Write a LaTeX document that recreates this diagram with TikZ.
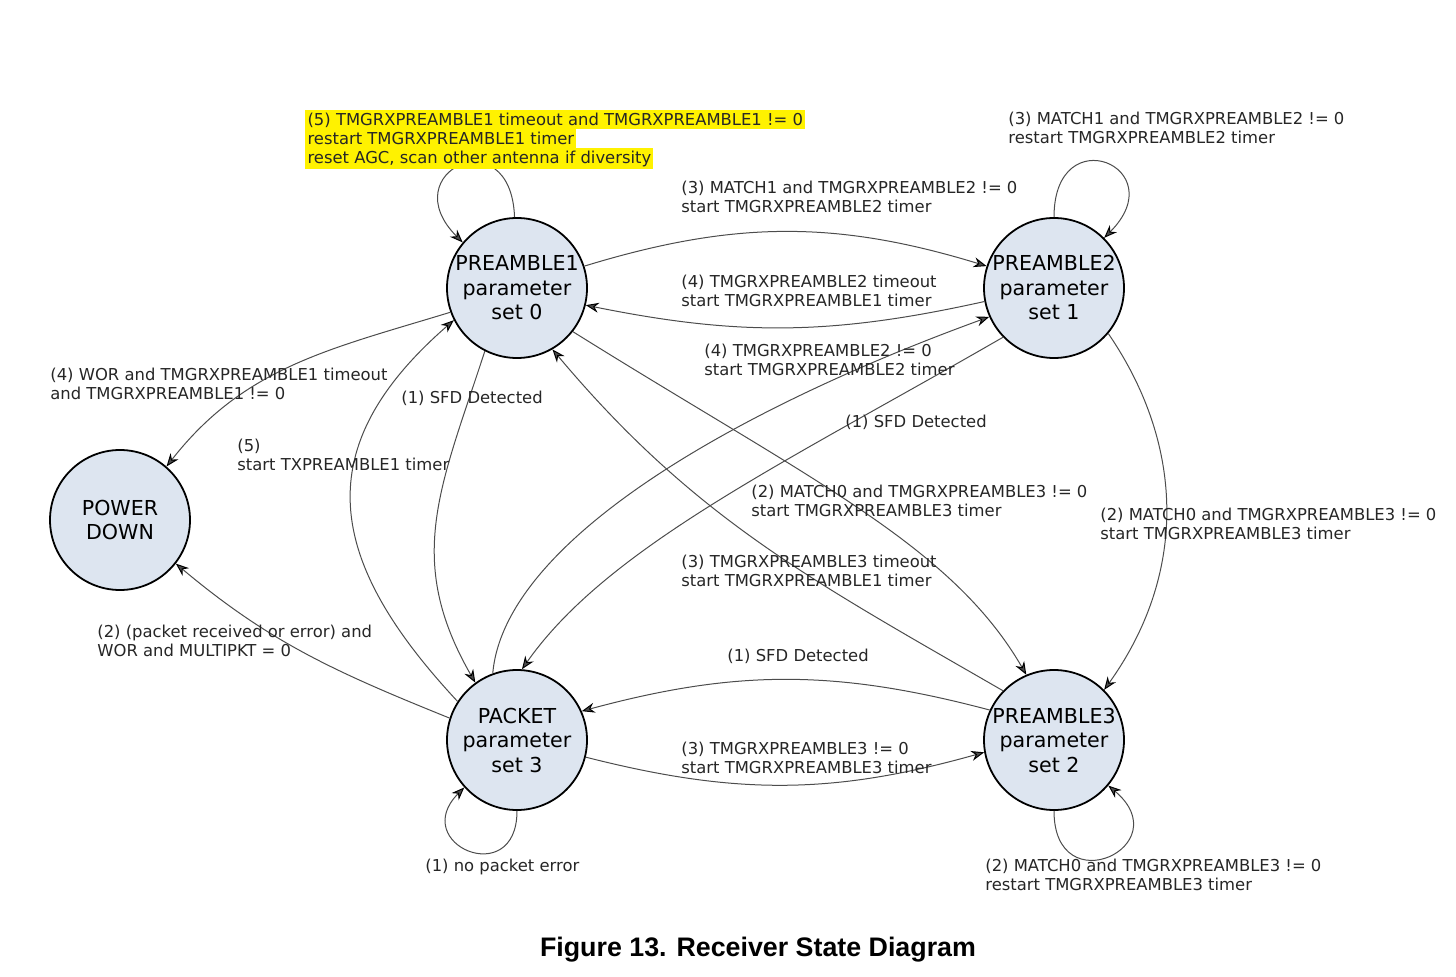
\documentclass[tikz,border=0pt]{standalone}
\usepackage{fontspec}
\setmainfont{DejaVu Sans}
\newfontfamily\capfont{Liberation Sans}
\usetikzlibrary{arrows.meta,positioning}
\definecolor{statefill}{RGB}{221,229,240}
\tikzset{state/.style={draw=black,circle,fill=statefill,line width=0.9pt,minimum size=70pt,inner sep=0pt,align=center,font=\fontsize{10.3}{12.25}\selectfont}}
\tikzstyle{lbl}=[anchor=north west,inner sep=0pt,align=left,text=black!85,font=\fontsize{8.2}{9.5}\selectfont]
\newcommand{\hl}[1]{\colorbox{yellow}{\vphantom{(}#1}}
\setlength{\fboxsep}{1.1pt}
\setlength{\lineskiplimit}{-10pt}

\begin{document}
\begin{tikzpicture}[x=0.5pt,y=0.5pt,>={Stealth[length=6.5pt,width=5pt,color=black]},node distance=268.5pt]
\useasboundingbox (0,0) rectangle (1456,976);

% states
\node[state] (pre1) at (517,688) {PREAMBLE1\\parameter\\set 0};
\node[state] (pre2) [right of=pre1] {PREAMBLE2\\parameter\\set 1};
\node[state] (pkt) [below of=pre1,node distance=226pt] {PACKET\\parameter\\set 3};
\node[state] (pre3) [right of=pkt] {PREAMBLE3\\parameter\\set 2};
\node[state] (pwr) at (120,456) {POWER\\DOWN};

% transitions
\path[->,black!70,line width=0.5pt]
  (pre1.92) edge[out=92,in=135,distance=50pt] (pre1.140)
  (pre2.90) edge[out=90,in=45,distance=50pt] (pre2.45)
  (pkt.270) edge[out=270,in=225,distance=40pt] (pkt.222)
  (pre3.270) edge[out=270,in=320,distance=47pt] (pre3.320)
  (pre1.18) edge[bend left=17] (pre2.162)
  (pre2.191) edge[bend left=12] (pre1.346)
  (pkt.110) edge[out=85,in=200,out distance=65pt,in distance=140pt] (pre2.204)
  (pre2.224) edge[out=210,in=55,out distance=125pt,in distance=75pt] (pkt.86)
  (pre1.322) edge[out=-32,in=120,out distance=140pt,in distance=75pt] (pre3.113)
  (pre3.136) edge[out=150,in=-50] (pre1.300)
  (pre2.-40) edge[bend left=35] (pre3.45)
  (pre3.155) edge[bend right=15] (pkt.24)
  (pkt.346) edge[bend right=15] (pre3.190)
  (pre1.200) edge[out=197,in=52] (pwr.49)
  (pkt.162) edge[out=158,in=-40] (pwr.-38)
  (pkt.147) edge[out=133,in=221,looseness=1.3] (pre1.207)
  (pre1.243) edge[out=252,in=120,looseness=1.1] (pkt.126);

% labels
\node[lbl] (lblhi) at (305,866) {\hl{(5) TMGRXPREAMBLE1 timeout and TMGRXPREAMBLE1 != 0}\\\hl{restart TMGRXPREAMBLE1 timer}\\\hl{reset AGC, scan other antenna if diversity}};
\node[lbl] (lbl12) at (681,795) {(3) MATCH1 and TMGRXPREAMBLE2 != 0\\start TMGRXPREAMBLE2 timer};
\node[lbl] (lbl22) at (1008,864) {(3) MATCH1 and TMGRXPREAMBLE2 != 0\\restart TMGRXPREAMBLE2 timer};
\node[lbl] (lbl21) at (681,701) {(4) TMGRXPREAMBLE2 timeout\\start TMGRXPREAMBLE1 timer};
\node[lbl] (lblk2) at (704,632) {(4) TMGRXPREAMBLE2 != 0\\start TMGRXPREAMBLE2 timer};
\node[lbl] (lbl1p) at (50,608) {(4) WOR and TMGRXPREAMBLE1 timeout\\and TMGRXPREAMBLE1 != 0};
\node[lbl] (lbl1k) at (401,585) {(1) SFD Detected};
\node[lbl] (lbl2k) at (845,561) {(1) SFD Detected};
\node[lbl] (lblk1) at (237,537) {(5)\\start TXPREAMBLE1 timer};
\node[lbl] (lbl13) at (751,491) {(2) MATCH0 and TMGRXPREAMBLE3 != 0\\start TMGRXPREAMBLE3 timer};
\node[lbl] (lbl23) at (1100,468) {(2) MATCH0 and TMGRXPREAMBLE3 != 0\\start TMGRXPREAMBLE3 timer};
\node[lbl] (lbl31) at (681,421) {(3) TMGRXPREAMBLE3 timeout\\start TMGRXPREAMBLE1 timer};
\node[lbl] (lblkp) at (97,351) {(2) (packet received or error) and\\WOR and MULTIPKT = 0};
\node[lbl] (lbl3k) at (727,327) {(1) SFD Detected};
\node[lbl] (lblk3) at (681,234) {(3) TMGRXPREAMBLE3 != 0\\start TMGRXPREAMBLE3 timer};
\node[lbl] (lblkk) at (425,117) {(1) no packet error};
\node[lbl] (lbl33) at (985,117) {(2) MATCH0 and TMGRXPREAMBLE3 != 0\\restart TMGRXPREAMBLE3 timer};

% caption
\node[font=\capfont\bfseries\fontsize{13.4}{16}\selectfont] (caption) at (758,26) {Figure 13. Receiver State Diagram};
\end{tikzpicture}
\end{document}
